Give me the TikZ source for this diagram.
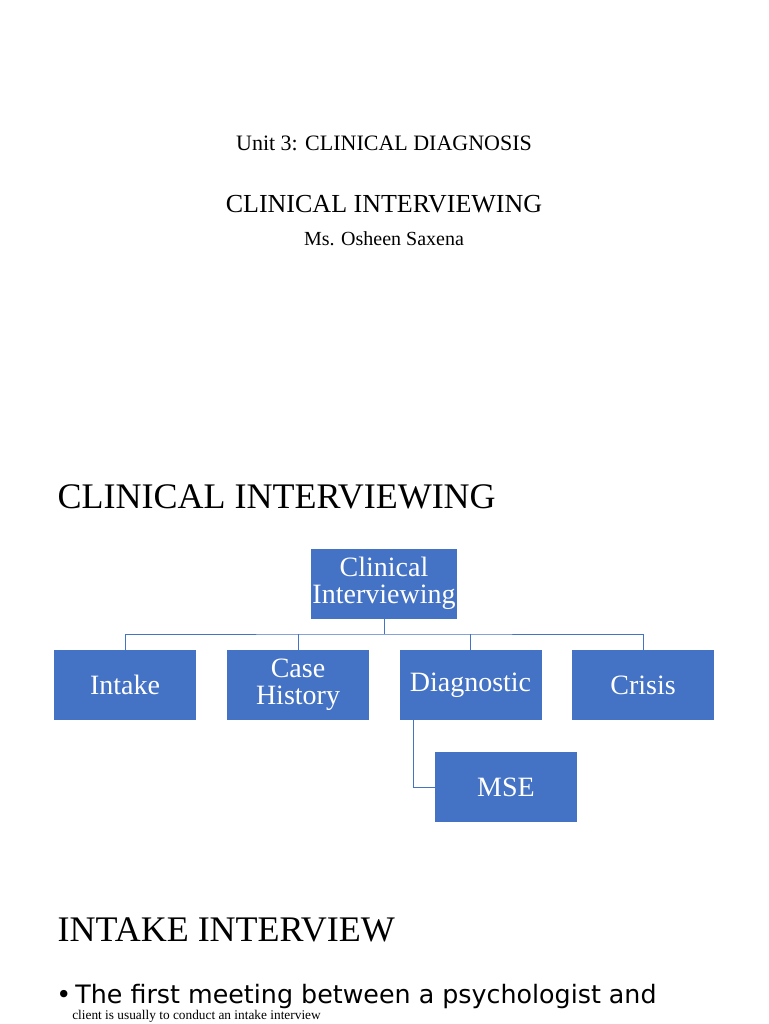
\documentclass[tikz,border=0pt]{standalone}
\usepackage{fontspec}
\setmainfont{Liberation Serif}
\newfontfamily\bulletfont{DejaVu Sans}
\usetikzlibrary{positioning}
\definecolor{boxblue}{HTML}{4472C4}
\tikzset{
  orgbox/.style={fill=boxblue, text=white, minimum width=106.5pt, minimum height=52.5pt,
    inner sep=1pt, align=center, font=\fontsize{21}{23}\selectfont},
  orgline/.style={draw=boxblue, line width=0.6pt}
}
\begin{document}
\begin{tikzpicture}[x=0.75pt,y=-0.75pt]
  \useasboundingbox (0,0) rectangle (768,1024);
  \clip (0,0) rectangle (768,1024);

  % title slide
  \node (unit) at (384,143) {\fontsize{16.5}{18}\selectfont Unit 3: CLINICAL DIAGNOSIS};
  \node (title) at (384,204) {\fontsize{19.5}{21}\selectfont CLINICAL INTERVIEWING};
  \node (author) at (384,239) {\fontsize{15}{17}\selectfont Ms. Osheen Saxena};

  % chart slide
  \node[anchor=west] (head) at (53,497) {\fontsize{27}{30}\selectfont CLINICAL INTERVIEWING};

  \node[orgbox] (root) at (384,583.5) {Clinical\\[-3pt]Interviewing};
  \node[orgbox] (intake) at (125,685) {Intake};
  \node[orgbox] (history) at (298,685) {Case\\[-3pt]History};
  \node[orgbox] (diag) at (470.5,685) {Diagnostic};
  \node[orgbox] (crisis) at (643,685) {Crisis};
  \node[orgbox] (mse) at (506,787) {MSE};

  \coordinate (bus) at (384,634);
  \draw[orgline] (root.south) -- (bus);
  \draw[orgline] (intake.north) |- (bus) -| (crisis.north);
  \draw[orgline] (history.north) -- (history.north |- bus);
  \draw[orgline] (diag.north) -- (diag.north |- bus);
  \draw[orgline] ([xshift=-42.75pt]diag.south) |- (mse.west);

  % intake slide
  \node[anchor=west] (head2) at (53,930) {\fontsize{27}{30}\selectfont INTAKE INTERVIEW};
  \node[anchor=north west, align=left, inner sep=0pt] (bullet) at (56,984)
    {\bulletfont\fontsize{19}{21}\selectfont \textbullet\,The first meeting between a psychologist and\\
     \hspace*{12pt}client is usually to conduct an intake interview};
\end{tikzpicture}
\end{document}
